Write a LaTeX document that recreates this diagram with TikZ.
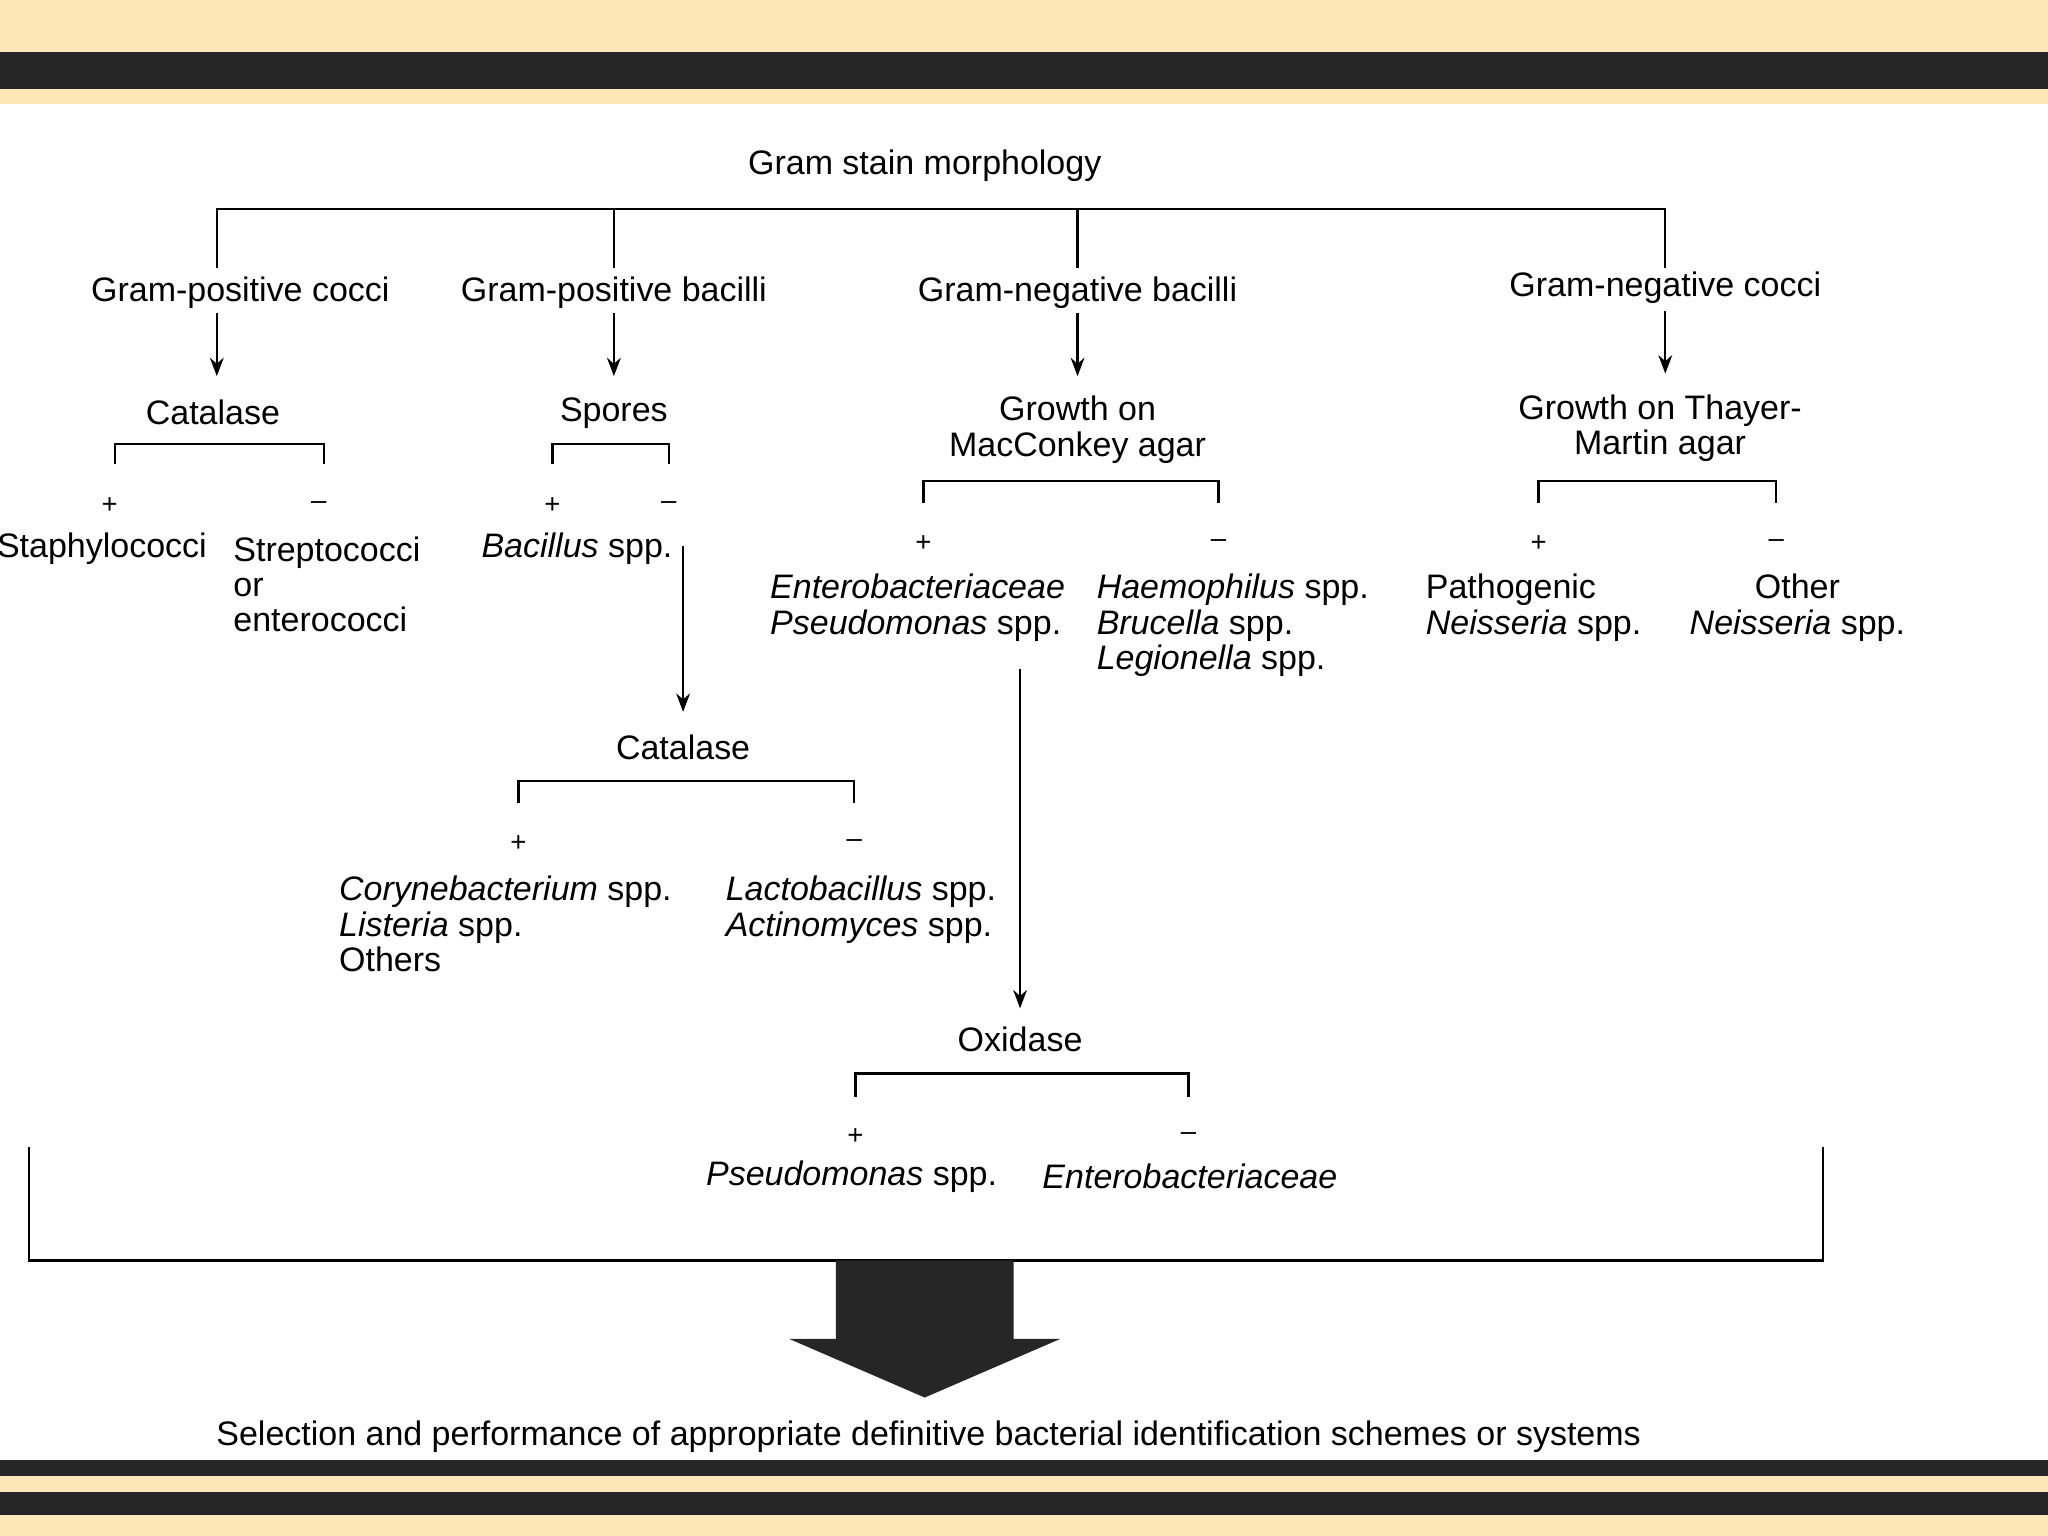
\documentclass[tikz,border=0pt]{standalone}
\usepackage{fontspec}
\setmainfont{Liberation Sans}
\usetikzlibrary{arrows.meta}
\begin{document}
\begin{tikzpicture}[x=0.01cm,y=-0.01cm,
  every node/.style={font=\fontsize{7.4}{7.7}\selectfont,inner sep=0pt,align=left},
  ln/.style={line width=0.5pt},
  ar/.style={ln,-{Stealth[length=4pt,width=3pt]}},
  sg/.style={font=\fontsize{6}{7}\selectfont}]
\fill[black!85] (0,0) rectangle (1568,1176);
\fill[yellow!30!orange!25] (0,0) rectangle (1568,40);
\fill[yellow!30!orange!25] (0,68) rectangle (1568,80);
\fill[yellow!30!orange!25] (0,1130) rectangle (1568,1142);
\fill[yellow!30!orange!25] (0,1160) rectangle (1568,1176);
\fill[white] (0,80) rectangle (1568,1118);
\useasboundingbox (0,0) rectangle (1568,1176);
% top level
\node (root) at (708,127) {Gram stain morphology};
\coordinate (h1) at (166,160); \coordinate (h4) at (1275,160);
\draw[ln] (166,205) -- (h1) -- (h4) -- (1275,205);
\draw[ln] (470,160) -- (470,205); \draw[ln] (825,160) -- (825,205);
\node (gpc) at (184,224) {Gram-positive cocci};
\node (gpb) at (470,224) {Gram-positive bacilli};
\node (gnb) at (825,224) {Gram-negative bacilli};
\node (gnc) at (1275,220) {Gram-negative cocci};
\node (cat1) at (163,316) {Catalase};
\node (spo) at (470,316) {Spores};
\node (mac) at (825,329) [align=center] {Growth on\\MacConkey agar};
\node (thm) at (1271,328) [align=center] {Growth on Thayer-\\Martin agar};
\draw[ar] (166,240) -- (166,288);
\draw[ar] (470,240) -- (470,288);
\draw[ar] (825,240) -- (825,288);
\draw[ar] (1275,238) -- (1275,286);
% brackets
\draw[ln] (88,355) -- (88,340) -- (248,340) -- (248,355);
\draw[ln] (423,355) -- (423,340) -- (512,340) -- (512,355);
\draw[ln] (707,385) -- (707,368) -- (933,368) -- (933,385);
\draw[ln] (1178,385) -- (1178,368) -- (1360,368) -- (1360,385);
\node[sg] at (84,387) {+}; \node[sg] at (244,387) {--};
\node[sg] at (423,387) {+}; \node[sg] at (512,387) {--};
\node[sg] at (707,416) {+}; \node[sg] at (933,416) {--};
\node[sg] at (1178,416) {+}; \node[sg] at (1360,416) {--};
\node (sta) at (78,420) {Staphylococci};
\node (str) [anchor=north west] at (178,410) {Streptococci\\or\\enterococci};
\node (bac) [anchor=west] at (368,420) {\textit{Bacillus} spp.};
\node (ent) [anchor=north west] at (589,439) {\textit{Enterobacteriaceae}\\\textit{Pseudomonas} spp.};
\node (hae) [anchor=north west] at (839,439) {\textit{Haemophilus} spp.\\\textit{Brucella} spp.\\\textit{Legionella} spp.};
\node (pat) [anchor=north west] at (1091,439) {Pathogenic\\\textit{Neisseria} spp.};
\node (oth) [anchor=north west] at (1293,439) [align=center] {Other\\\textit{Neisseria} spp.};
% catalase 2
\coordinate (ba1) at (523,418);
\draw[ar] (ba1) -- (523,545);
\node (cat2) at (523,572) {Catalase};
\draw[ln] (397,615) -- (397,598) -- (654,598) -- (654,615);
\node[sg] at (397,646) {+}; \node[sg] at (654,646) {--};
\node (cor) [anchor=north west] at (259,670) {\textit{Corynebacterium} spp.\\\textit{Listeria} spp.\\Others};
\node (lac) [anchor=north west] at (555,670) {\textit{Lactobacillus} spp.\\\textit{Actinomyces} spp.};
% oxidase
\coordinate (ps1) at (781,512);
\draw[ar] (ps1) -- (781,772);
\node (oxi) at (781,796) {Oxidase};
\draw[ln] (655,840) -- (655,822) -- (910,822) -- (910,840);
\node[sg] at (655,870) {+}; \node[sg] at (910,870) {--};
\node (pse) at (652,901) {\textit{Pseudomonas} spp.};
\node (ebc) at (911,901) {\textit{Enterobacteriaceae}};
% big bracket and arrow
\draw[ln] (22,878) -- (22,965) -- (1396,965) -- (1396,878);
\fill[black!85] (640,965) -- (776,965) -- (776,1025) -- (812,1025) -- (708,1070) -- (604,1025) -- (640,1025) -- cycle;
\node (sel) at (711,1100) {Selection and performance of appropriate definitive bacterial identification schemes or systems};
\end{tikzpicture}
\end{document}
